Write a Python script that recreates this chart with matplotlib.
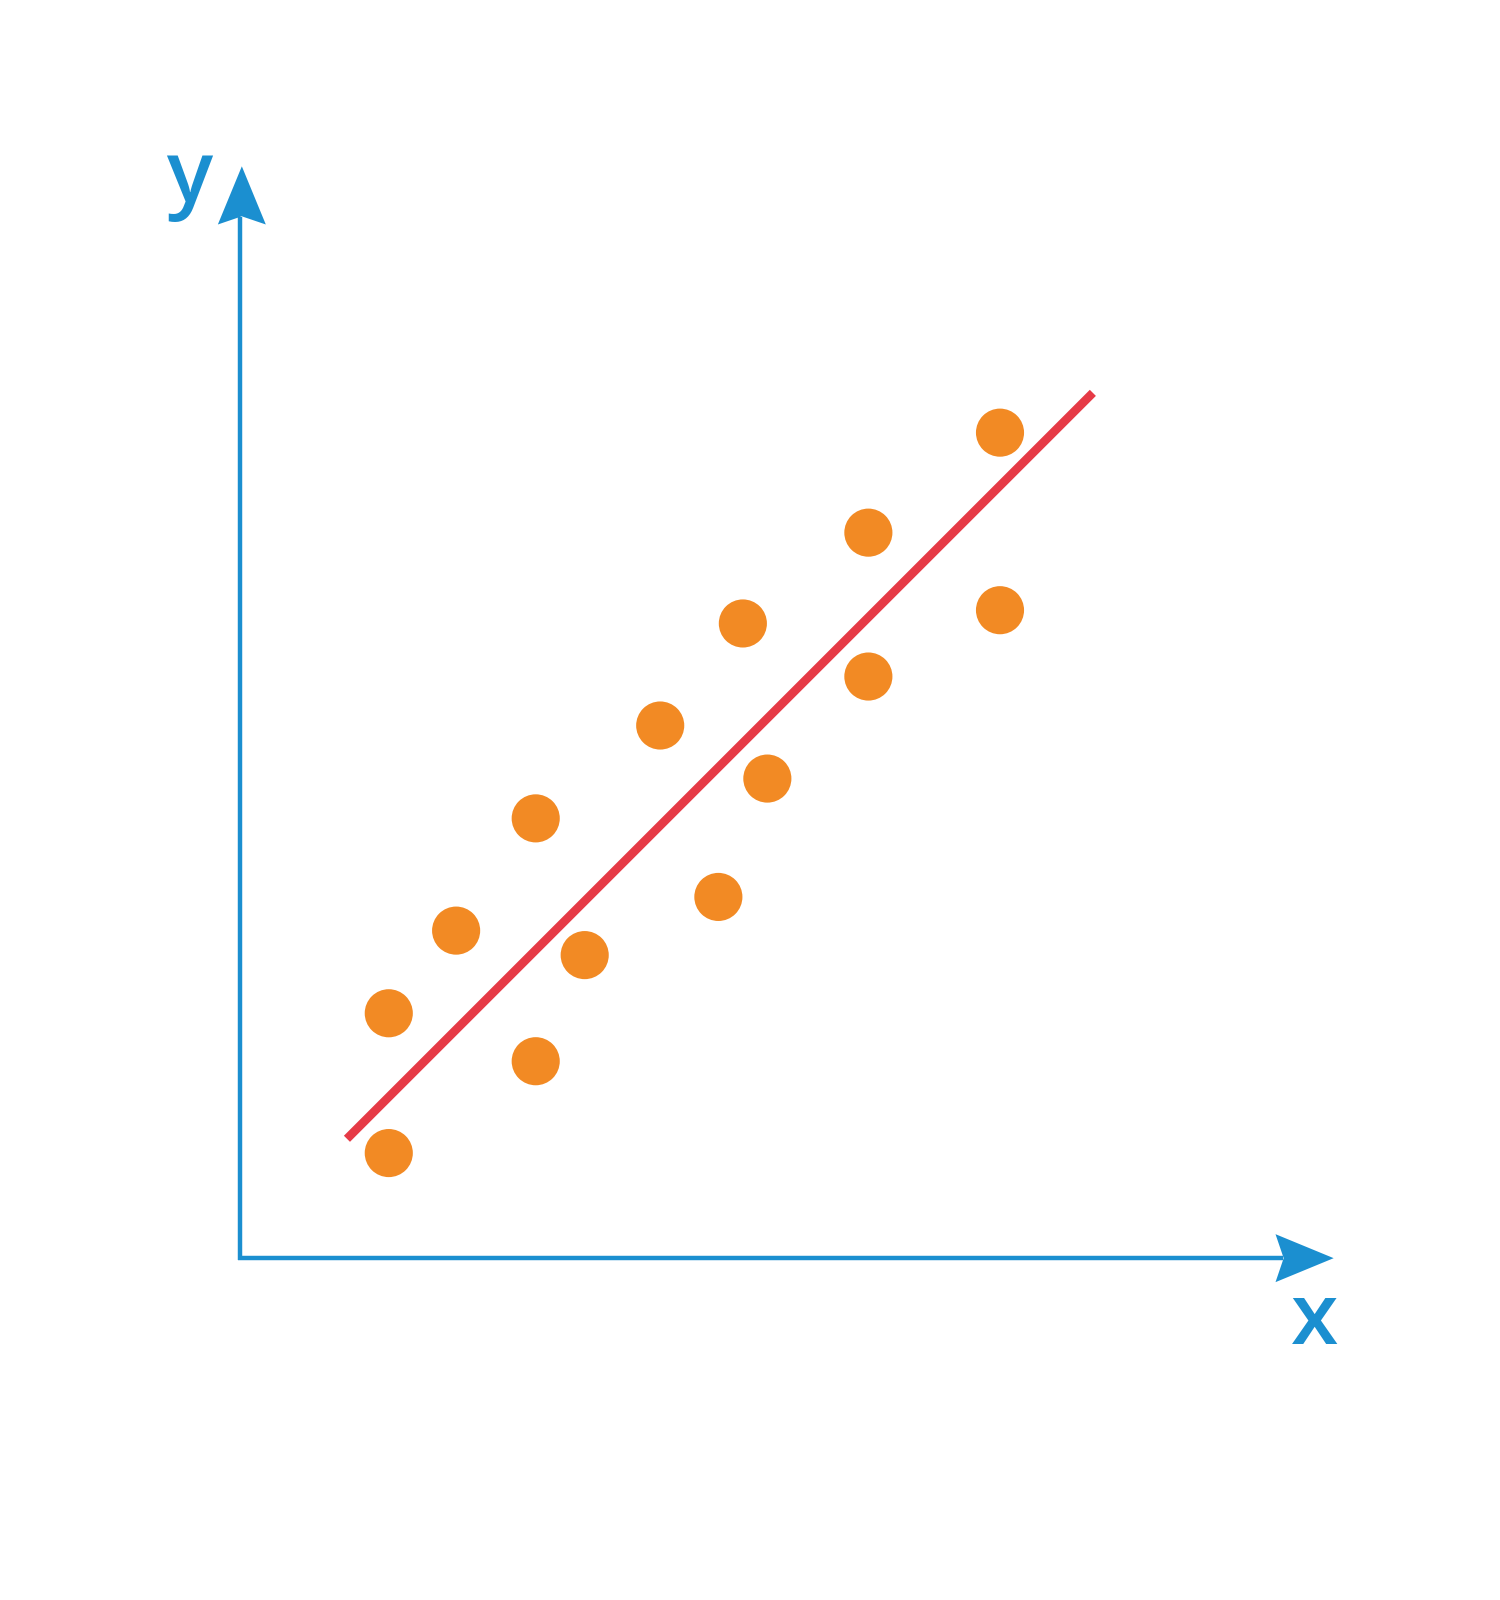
import numpy as np
import matplotlib.pyplot as plt
from matplotlib.patches import Polygon

# Scatter data (arbitrary units, origin at the axes corner)
x_vals = [1.46, 1.46, 2.12, 2.90, 2.90, 3.38, 4.12, 4.69, 4.93, 5.17, 6.16, 6.16, 7.45, 7.45]
y_vals = [1.03, 2.40, 3.21, 1.93, 4.31, 2.97, 5.22, 3.54, 6.22, 4.70, 7.11, 5.70, 8.09, 6.35]

# Trend line end points
line_x = [1.05, 8.36]
line_y = [1.17, 8.48]

# Axis arrow lengths
x_axis_len = 10.72
y_axis_len = 10.70

blue = '#1b8fd0'
orange = '#f28a24'
red = '#e63a46'

fig = plt.figure(figsize=(15, 16), dpi=100)
ax = fig.add_axes([0, 0, 1, 1])
ax.set_xlim(-2.35, 12.35)
ax.set_ylim(-3.35, 12.33)
ax.axis('off')


def arrow_head(tip, direction, length=0.57, half_w=0.235, notch=0.08):
    d = np.array(direction, dtype=float)
    n = np.array([-d[1], d[0]])
    tip = np.array(tip, dtype=float)
    base = tip - d * length
    pts = [tip, base + n * half_w, base + d * notch, base - n * half_w]
    return Polygon(pts, closed=True, color=blue, lw=0, zorder=3)


# axes lines with arrows
ax.plot([0, 0], [-0.02, y_axis_len - 0.5], color=blue, lw=3.2, solid_capstyle='butt', zorder=2)
ax.plot([-0.02, x_axis_len - 0.5], [0, 0], color=blue, lw=3.2, solid_capstyle='butt', zorder=2)
ax.add_patch(arrow_head((0.02, y_axis_len), (0, 1)))
ax.add_patch(arrow_head((x_axis_len, 0), (1, 0)))

ax.text(-0.50, 10.36, 'y', color=blue, fontsize=62, family='Open Sans',
        fontweight='semibold', ha='center', va='baseline')
ax.text(10.53, -0.84, 'x', color=blue, fontsize=62, family='Open Sans',
        fontweight='semibold', ha='center', va='baseline')

# trend line and points
ax.plot(line_x, line_y, color=red, lw=6.2, solid_capstyle='butt', zorder=4)
ax.scatter(x_vals, y_vals, s=1200, color=orange, edgecolors='none', zorder=5)

fig.savefig('out.png', dpi=100)
